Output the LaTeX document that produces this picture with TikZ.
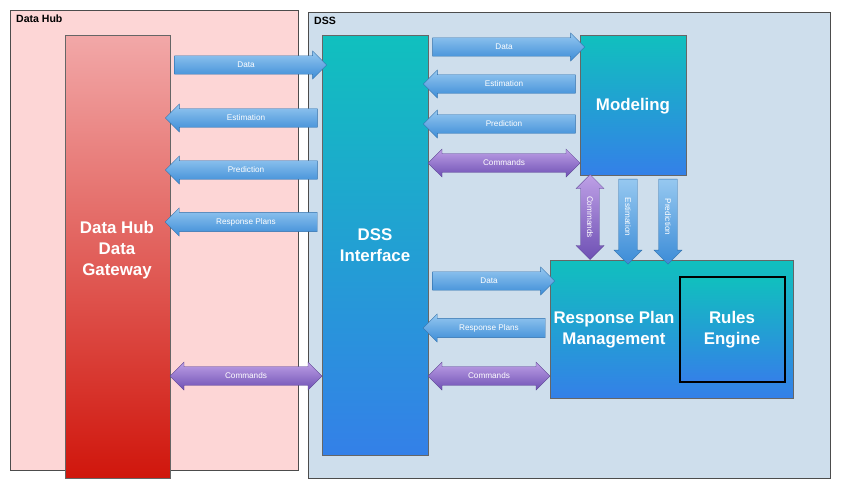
\documentclass[tikz,border=0pt]{standalone}
\usepackage{fontspec}
\setmainfont{Liberation Sans}
\usetikzlibrary{shapes.arrows}
\definecolor{hubpink}{RGB}{253,214,214}
\definecolor{dsspanel}{RGB}{206,222,236}
\definecolor{gwtop}{RGB}{242,168,168}
\definecolor{gwbot}{RGB}{208,22,12}
\definecolor{boxtop}{RGB}{16,192,190}
\definecolor{boxbot}{RGB}{52,128,232}
\definecolor{arrtop}{RGB}{150,200,240}
\definecolor{arrbot}{RGB}{60,140,215}
\definecolor{cmdtop}{RGB}{190,160,230}
\definecolor{cmdbot}{RGB}{110,80,180}

\tikzset{
  panel/.style={draw=black!70,line width=0.6pt},
  block/.style={draw=black!60,top color=boxtop,bottom color=boxbot},
  blocktext/.style={text=white,font=\bfseries\Large,align=center},
  flow/.style={single arrow,draw=arrbot!80!black,line width=0.3pt,
    top color=arrtop,bottom color=arrbot,text=white,font=\scriptsize,
    inner xsep=1pt,inner ysep=4pt,minimum width=0.84cm,single arrow head extend=0.12cm,
    single arrow head indent=0pt},
  cmd/.style={double arrow,draw=cmdbot!80!black,line width=0.3pt,
    top color=cmdtop,bottom color=cmdbot,text=white,font=\scriptsize,
    inner xsep=1pt,inner ysep=4pt,minimum width=0.84cm,double arrow head extend=0.12cm}
}

\begin{document}
\begin{tikzpicture}[x=0.03cm,y=-0.03cm]
  \useasboundingbox (0,0) rectangle (844,490);
  % panels
  \draw[panel,fill=hubpink] (10,10) rectangle (298,470);
  \node[anchor=north west,font=\bfseries\small] (hubtitle) at (12,11) {Data Hub};
  \draw[panel,fill=dsspanel] (308,12) rectangle (830,478);
  \node[anchor=north west,font=\bfseries\small] (dsstitle) at (310,13) {DSS};
  % blocks
  \draw[draw=black!60,top color=gwtop,bottom color=gwbot] (65,35) rectangle (170,478);
  \node[blocktext] (gw) at (117,250) {Data Hub\\Data\\Gateway};
  \draw[block] (322,35) rectangle (428,455);
  \node[blocktext] (dss) at (375,245) {DSS\\Interface};
  \draw[block] (580,35) rectangle (686,175);
  \node[blocktext] (model) at (633,106) {Modeling};
  \draw[block] (550,260) rectangle (793,398);
  \node[blocktext] (rpm) at (614,330) {Response Plan\\Management};
  \draw[block,line width=1.6pt,draw=black] (680,277) rectangle (785,382);
  \node[blocktext] (rules) at (732,330) {Rules\\Engine};
  % data hub arrows
  \node[flow,minimum height=152*0.03cm] (a1) at (246,65) {Data};
  \node[flow,minimum height=152*0.03cm,shape border rotate=180] (a2) at (246,118) {Estimation};
  \node[flow,minimum height=152*0.03cm,shape border rotate=180] (a3) at (246,170) {Prediction};
  \node[flow,minimum height=152*0.03cm,shape border rotate=180] (a4) at (246,222) {Response Plans};
  \node[cmd,minimum height=152*0.03cm] (a5) at (246,376) {Commands};
  % modeling arrows
  \node[flow,minimum height=152*0.03cm] (b1) at (504,47) {Data};
  \node[flow,minimum height=152*0.03cm,shape border rotate=180] (b2) at (504,84) {Estimation};
  \node[flow,minimum height=152*0.03cm,shape border rotate=180] (b3) at (504,124) {Prediction};
  \node[cmd,minimum height=152*0.03cm] (b4) at (504,163) {Commands};
  % vertical arrows
  \node[cmd,minimum height=85*0.03cm,rotate=-90] (c1) at (590,217) {Commands};
  \node[flow,minimum height=85*0.03cm,rotate=-90] (c2) at (628,217) {Estimation};
  \node[flow,minimum height=85*0.03cm,rotate=-90] (c3) at (668,217) {Prediction};
  % response plan arrows
  \node[flow,minimum height=122*0.03cm] (d1) at (489,281) {Data};
  \node[flow,minimum height=122*0.03cm,shape border rotate=180] (d2) at (489,328) {Response Plans};
  \node[cmd,minimum height=122*0.03cm] (d3) at (489,376) {Commands};
\end{tikzpicture}
\end{document}
